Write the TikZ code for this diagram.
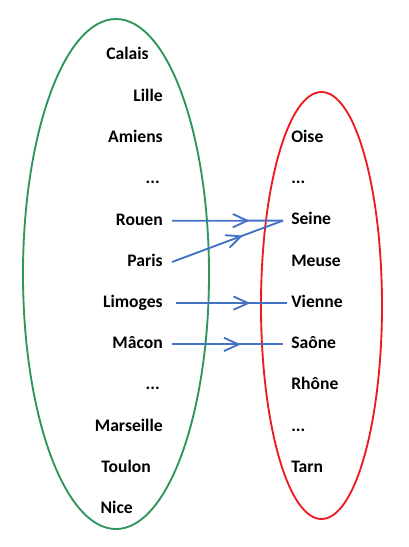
\documentclass[tikz,border=0pt]{standalone}
\usepackage{fontspec}
\setmainfont{Carlito}
\usetikzlibrary{arrows.meta,decorations.markings}
\definecolor{villegreen}{RGB}{46,150,92}
\definecolor{fleuvered}{RGB}{237,28,36}
\definecolor{flecheblue}{RGB}{68,114,196}
\tikzset{
  ville/.style={anchor=east, font=\fontsize{13.2}{15}\selectfont\bfseries, inner xsep=6.75pt, inner ysep=0pt, text height=9pt, text depth=2.7pt},
  fleuve/.style={ville, anchor=west, inner xsep=6pt},
  ensemble/.style={line width=1.4pt},
  lien/.style={flecheblue, line width=1.4pt, postaction={decorate},
    decoration={markings, mark=at position #1 with {\arrow{Straight Barb[length=11pt,width=10pt]}}}},
  lien/.default=0.66
}
\begin{document}
\begin{tikzpicture}[x=0.75pt, y=-0.75pt]
\useasboundingbox (0,0) rectangle (408,547);
% les deux ensembles
\draw[ensemble, villegreen] (116,274) ellipse [x radius=93, y radius=255];
\draw[ensemble, fleuvered] (321.5,305.5) ellipse [x radius=60.5, y radius=213.5];

% villes
\node[ville] (calais) at (158,55.5) {Calais};
\node[ville] (lille) at (172,96.8) {Lille};
\node[ville] (amiens) at (172,138) {Amiens};
\node[ville] (pointsg) at (169,179.3) {...};
\node[ville] (rouen) at (172,220.8) {Rouen};
\node[ville] (paris) at (172,262) {Paris};
\node[ville] (limoges) at (172,303.1) {Limoges};
\node[ville] (macon) at (172,344.4) {Mâcon};
\node[ville] (pointsgg) at (169,385.7) {...};
\node[ville] (marseille) at (172,426.9) {Marseille};
\node[ville] (toulon) at (160,468.2) {Toulon};
\node[ville] (nice) at (142,509.5) {Nice};

% fleuves
\node[fleuve] (oise) at (283,138) {Oise};
\node[fleuve] (pointsd) at (283,179.3) {...};
\node[fleuve] (seine) at (283,220.6) {Seine};
\node[fleuve] (meuse) at (283,261.9) {Meuse};
\node[fleuve] (vienne) at (283,303.1) {Vienne};
\node[fleuve] (saone) at (283,344.4) {Saône};
\node[fleuve] (rhone) at (283,385.7) {Rhône};
\node[fleuve] (pointsdd) at (283,426.9) {...};
\node[fleuve] (tarn) at (283,468.2) {Tarn};

\draw[lien=0.7] (rouen.east) -- (seine.west);
\draw[lien=0.64] (paris.east) -- (seine.west);
\draw[lien=0.67] ([xshift=3pt]limoges.east) -- ([xshift=3pt]vienne.west);
\draw[lien=0.62] (macon.east) -- (saone.west);
\end{tikzpicture}
\end{document}
